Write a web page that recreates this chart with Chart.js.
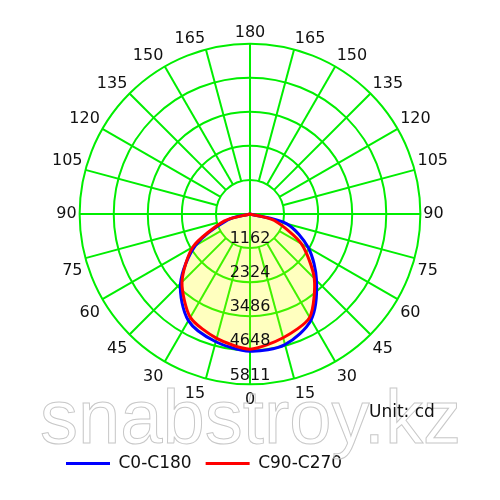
<!DOCTYPE html>
<html>
<head>
<meta charset="utf-8">
<title>Polar intensity diagram</title>
<script src="https://cdn.jsdelivr.net/npm/chart.js@4.4.1/dist/chart.umd.min.js"></script>
<style>
    body { margin: 0; background: #fff; }
    #wrap { position: relative; width: 500px; height: 500px; }
</style>
</head>
<body>
<div id="wrap"><canvas id="polar"></canvas></div>
<script>
// goc (do), theo chieu kim dong ho tu dinh
const ANGLES = ['180', '165', '150', '135', '120', '105', '90', '75', '60', '45', '30', '15',
    '0', '15', '30', '45', '60', '75', '90', '105', '120', '135', '150', '165'];
// cac vong cuong do (cd)
const RINGS = [1162, 2324, 3486, 4648, 5811];
const C0_C180 = [0, 0, 0, 0, 0, 0, 0, 1300, 2300, 3210, 4170, 4610,
    4680, 4510, 4200, 3350, 2150, 790, 0, 0, 0, 0, 0, 0];
const C90_C270 = [0, 0, 0, 0, 0, 0, 0, 860, 2020, 3100, 4070, 4370,
    4610, 4390, 4070, 3280, 2250, 900, 0, 0, 0, 0, 0, 0];

const GREEN = '#00ee00';
const FONT = 'DejaVu Sans';

// nan hoa, nhan vong va chu phu
const polarExtras = {
    id: 'polarExtras',
    beforeDatasetsDraw(chart) {
        const r = chart.scales.r;
        const ctx = chart.ctx;
        const inner = r.getDistanceFromCenterForValue(RINGS[0]);
        ctx.save();
        ctx.strokeStyle = GREEN;
        ctx.lineWidth = 2;
        ANGLES.forEach((a, i) => {
            const from = r.getPointPosition(i, i % 6 === 0 ? 0 : inner);
            const to = r.getPointPosition(i, r.drawingArea);
            ctx.beginPath();
            ctx.moveTo(from.x, from.y);
            ctx.lineTo(to.x, to.y);
            ctx.stroke();
        });
        ctx.restore();
    },
    afterDatasetsDraw(chart) {
        const r = chart.scales.r;
        const ctx = chart.ctx;
        ctx.save();
        ctx.font = `16px "${FONT}"`;
        ctx.fillStyle = '#111';
        ctx.textAlign = 'center';
        ctx.textBaseline = 'middle';
        RINGS.forEach(v => {
            ctx.fillText(String(v), r.xCenter, r.yCenter + r.getDistanceFromCenterForValue(v) - 9);
        });
        ctx.restore();
    },
    afterDraw(chart) {
        const ctx = chart.ctx;
        ctx.save();
        ctx.font = '76px "Liberation Sans"';
        ctx.strokeStyle = '#c8c8c8';
        ctx.lineWidth = 1;
        ctx.textBaseline = 'alphabetic';
        ctx.strokeText('snabstroy.kz', 40, 443);
        ctx.font = `17px "${FONT}"`;
        ctx.fillStyle = '#111';
        ctx.textBaseline = 'middle';
        ctx.fillText('Unit: cd', 369, 413);
        ctx.restore();
    }
};

const ctx = document.getElementById('polar').getContext('2d');
const polarChart = new Chart(ctx, {
    type: 'radar',
    data: {
        labels: ANGLES,
        datasets: [{
            label: 'C0-C180',
            data: C0_C180,
            borderColor: '#0000ff',
            backgroundColor: 'rgba(255, 255, 0, 0.25)',
            fill: true,
            borderWidth: 3,
            pointRadius: 0,
            tension: 0.3,
            order: 1
        }, {
            label: 'C90-C270',
            data: C90_C270,
            borderColor: '#ff0000',
            backgroundColor: 'rgba(255, 0, 0, 0)',
            fill: false,
            borderWidth: 3,
            pointRadius: 0,
            tension: 0.25,
            order: 0
        }]
    },
    options: {
        responsive: true,
        maintainAspectRatio: false,
        animation: false,
        layout: { padding: { left: 52, right: 52, top: 19.5, bottom: 18 } },
        scales: {
            r: {
                min: 0,
                max: 5811,
                afterBuildTicks(scale) {
                    scale.ticks = [0, ...RINGS].map(v => ({ value: v }));
                },
                ticks: { display: false },
                grid: { circular: true, color: GREEN, lineWidth: 2 },
                angleLines: { display: false },
                pointLabels: {
                    color: '#111',
                    padding: 3,
                    // nhan nua duoi thap hon mot chut
                    font: c => ({ family: FONT, size: 16, lineHeight: c.index >= 7 && c.index <= 17 ? 1.55 : 1 })
                }
            }
        },
        plugins: {
            tooltip: { enabled: false },
            legend: {
                position: 'bottom',
                align: 'start',
                title: { display: true, text: '', padding: { top: 8.5, bottom: 0 } },
                labels: {
                    usePointStyle: true,
                    pointStyle: 'line',
                    pointStyleWidth: 44,
                    boxWidth: 44,
                    padding: 14,
                    color: '#111',
                    font: { family: FONT, size: 17 },
                    sort: (a, b) => a.datasetIndex - b.datasetIndex
                }
            }
        }
    },
    plugins: [polarExtras]
});
</script>
</body>
</html>
